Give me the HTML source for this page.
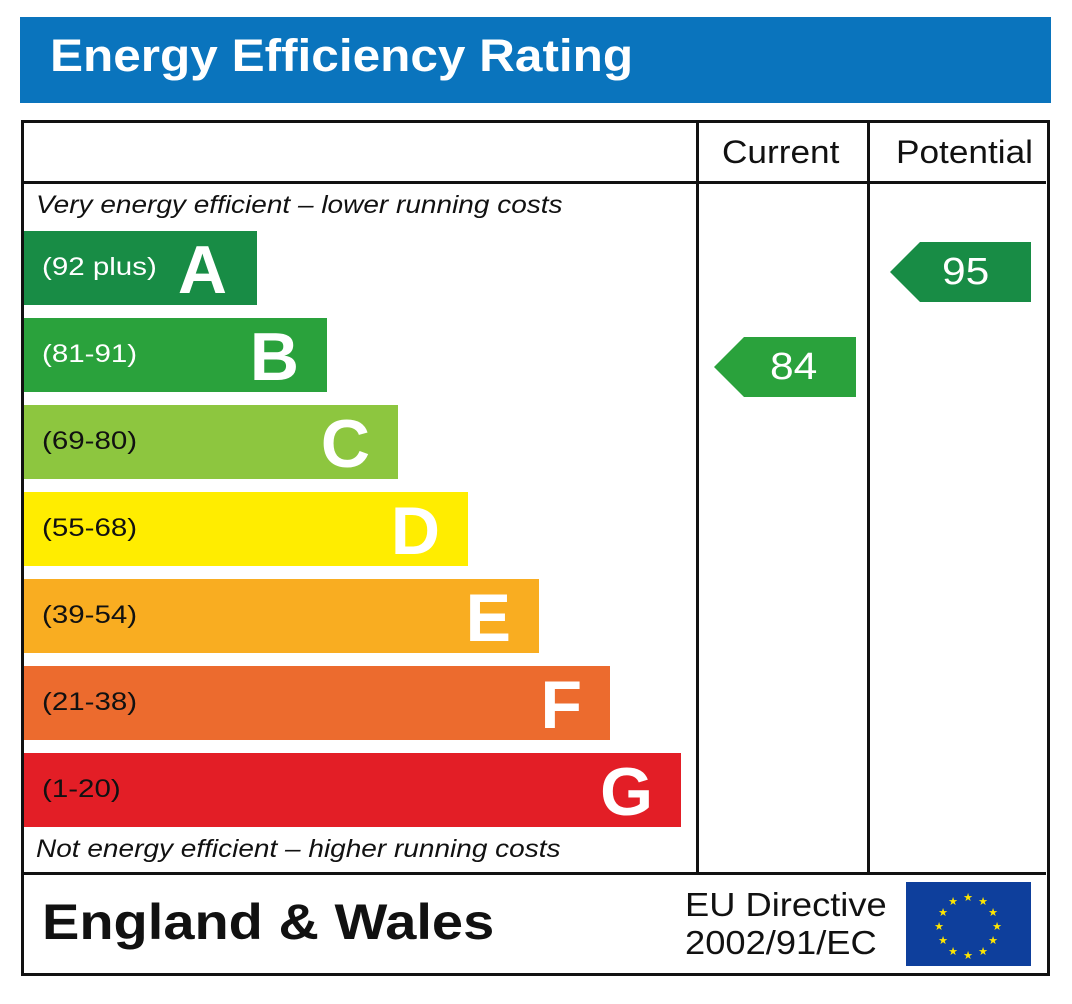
<!DOCTYPE html>
<html><head><meta charset="utf-8"><style>
body{margin:0;width:1072px;height:1004px;background:#fff;position:relative;font-family:"Liberation Sans",sans-serif;overflow:hidden}
.a{position:absolute;transform-origin:0 0}
.w{transform:scaleX(1.12)}
.bar{position:absolute;left:24px;height:74px}
.rng{position:absolute;left:18px;top:22px;font-size:25px;color:#fff;transform:scaleX(1.18);transform-origin:0 0}
.let{position:absolute;right:28px;top:0px;font-size:68px;font-weight:bold;color:#fff}
</style></head><body>
<div class="a" style="left:20px;top:17px;width:1031px;height:86px;background:#0a74bd"></div>
<div class="a" style="left:50px;top:30px;font-size:45px;font-weight:bold;color:#fff;transform:scaleX(1.1)">Energy Efficiency Rating</div>
<div class="a" style="left:21px;top:120px;width:1023px;height:850px;border:3px solid #111"></div>
<div class="a" style="left:24px;top:181px;width:1022px;height:3px;background:#111"></div>
<div class="a" style="left:24px;top:872px;width:1022px;height:3px;background:#111"></div>
<div class="a" style="left:696px;top:123px;width:3px;height:750px;background:#111"></div>
<div class="a" style="left:867px;top:123px;width:3px;height:750px;background:#111"></div>
<div class="a" style="left:722px;top:134px;font-size:32px;color:#111;transform:scaleX(1.1)">Current</div>
<div class="a" style="left:896px;top:134px;font-size:32px;color:#111;transform:scaleX(1.1)">Potential</div>
<div class="a w" style="left:36px;top:191px;font-size:25px;font-style:italic;color:#111">Very energy efficient – lower running costs</div>
<div class="a w" style="left:36px;top:835px;font-size:25px;font-style:italic;color:#111">Not energy efficient – higher running costs</div>
<div class="bar" style="top:231px;width:233px;background:#188c45"><span class="rng">(92 plus)</span><span class="let" style="right:30px">A</span></div>
<div class="bar" style="top:318px;width:303px;background:#2aa23c"><span class="rng">(81-91)</span><span class="let">B</span></div>
<div class="bar" style="top:405px;width:374px;background:#8dc63f"><span class="rng" style="color:#111">(69-80)</span><span class="let">C</span></div>
<div class="bar" style="top:492px;width:444px;background:#ffed00"><span class="rng" style="color:#111">(55-68)</span><span class="let">D</span></div>
<div class="bar" style="top:579px;width:515px;background:#f9ad21"><span class="rng" style="color:#111">(39-54)</span><span class="let">E</span></div>
<div class="bar" style="top:666px;width:586px;background:#ec6b2e"><span class="rng" style="color:#111">(21-38)</span><span class="let">F</span></div>
<div class="bar" style="top:753px;width:657px;background:#e31e26"><span class="rng" style="color:#111">(1-20)</span><span class="let">G</span></div>
<svg class="a" style="left:0;top:0" width="1072" height="1004">
<polygon points="714,367 744,337 856,337 856,397 744,397" fill="#2aa23c"/>
<polygon points="890,272 920,242 1031,242 1031,302 920,302" fill="#188c45"/>
<rect x="906" y="882" width="125" height="84" fill="#0e3f9c"/>
<g fill="#ffe600" font-size="11" text-anchor="middle" font-family="DejaVu Sans">
<text x="968" y="901">★</text><text x="968" y="959">★</text>
<text x="939" y="930">★</text><text x="997" y="930">★</text>
<text x="953" y="905">★</text><text x="983" y="905">★</text>
<text x="953" y="955">★</text><text x="983" y="955">★</text>
<text x="943" y="916">★</text><text x="993" y="916">★</text>
<text x="943" y="944">★</text><text x="993" y="944">★</text>
</g>
</svg>
<div class="a" style="left:770px;top:346px;font-size:38px;color:#fff;transform:scaleX(1.12)">84</div>
<div class="a" style="left:942px;top:251px;font-size:38px;color:#fff;transform:scaleX(1.12)">95</div>
<div class="a w" style="left:42px;top:893px;font-size:50px;font-weight:bold;color:#111">England &amp; Wales</div>
<div class="a" style="left:685px;top:886px;font-size:33px;color:#111;line-height:38px;transform:scaleX(1.1)">EU Directive<br>2002/91/EC</div>
</body></html>
